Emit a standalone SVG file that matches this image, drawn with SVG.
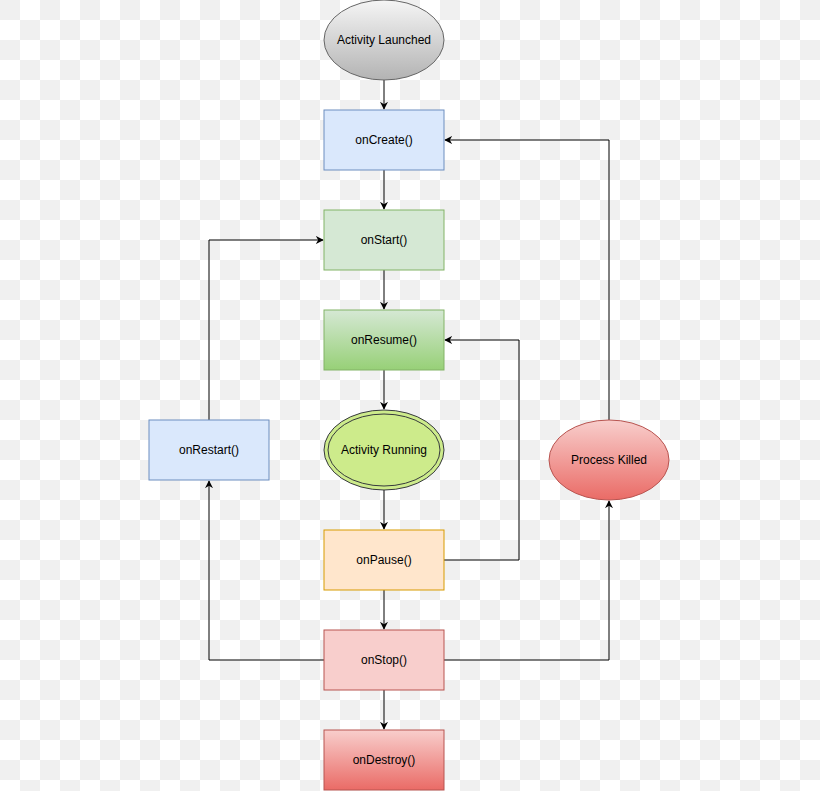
<svg xmlns="http://www.w3.org/2000/svg" width="820" height="791" viewBox="0 0 820 791">
<defs>
<pattern id="chk" width="40" height="40" patternUnits="userSpaceOnUse">
<rect width="40" height="40" fill="#ffffff"/>
<rect width="20" height="20" fill="#f0f0f0"/>
<rect x="20" y="20" width="20" height="20" fill="#f0f0f0"/>
</pattern>
<linearGradient id="gGray" x1="0" y1="0" x2="0" y2="1"><stop offset="0" stop-color="#f5f5f5"/><stop offset="1" stop-color="#b3b3b3"/></linearGradient>
<linearGradient id="gGreen" x1="0" y1="0" x2="0" y2="1"><stop offset="0" stop-color="#d5e8d4"/><stop offset="1" stop-color="#97d077"/></linearGradient>
<linearGradient id="gRed" x1="0" y1="0" x2="0" y2="1"><stop offset="0" stop-color="#f8cecc"/><stop offset="1" stop-color="#ea6b66"/></linearGradient>
<marker id="ar" viewBox="0 0 10 10" refX="9" refY="5" markerWidth="8" markerHeight="8" orient="auto" markerUnits="userSpaceOnUse"><path d="M0,0 L10,5 L0,10 L3,5 Z" fill="#000"/></marker>
</defs>
<style>
text{font-family:"Liberation Sans",Arial,sans-serif;font-size:12px;fill:#000;text-anchor:middle;dominant-baseline:central}
.c{fill:none;stroke:#000;stroke-width:1;marker-end:url(#ar)}
</style>
<rect width="820" height="791" fill="url(#chk)"/>
<g id="connectors">
<path class="c" d="M384,80 V109"/>
<path class="c" d="M384,170 V209"/>
<path class="c" d="M384,270 V309"/>
<path class="c" d="M384,370 V409"/>
<path class="c" d="M384,490 V529"/>
<path class="c" d="M384,590 V629"/>
<path class="c" d="M384,690 V729"/>
<path class="c" d="M209,420 V240 H323"/>
<path class="c" d="M324,660 H209 V481"/>
<path class="c" d="M444,560 H519 V340 H445"/>
<path class="c" d="M444,660 H609 V501"/>
<path class="c" d="M609,420 V140 H445"/>
</g>
<g id="activityLaunched"><ellipse cx="384" cy="40" rx="60" ry="40" fill="url(#gGray)" stroke="#666"/><text x="384" y="40">Activity Launched</text></g>
<g id="onCreate"><rect x="324" y="110" width="120" height="60" fill="#dae8fc" stroke="#6c8ebf"/><text x="384" y="140">onCreate()</text></g>
<g id="onStart"><rect x="324" y="210" width="120" height="60" fill="#d5e8d4" stroke="#82b366"/><text x="384" y="240">onStart()</text></g>
<g id="onResume"><rect x="324" y="310" width="120" height="60" fill="url(#gGreen)" stroke="#82b366"/><text x="384" y="340">onResume()</text></g>
<g id="activityRunning"><ellipse cx="384" cy="450" rx="60" ry="40" fill="#cdeb8b" stroke="#36393d"/><ellipse cx="384" cy="450" rx="56" ry="36" fill="none" stroke="#36393d"/><text x="384" y="450">Activity Running</text></g>
<g id="onPause"><rect x="324" y="530" width="120" height="60" fill="#ffe6cc" stroke="#d79b00"/><text x="384" y="560">onPause()</text></g>
<g id="onStop"><rect x="324" y="630" width="120" height="60" fill="#f8cecc" stroke="#b85450"/><text x="384" y="660">onStop()</text></g>
<g id="onDestroy"><rect x="324" y="730" width="120" height="60" fill="url(#gRed)" stroke="#b85450"/><text x="384" y="760">onDestroy()</text></g>
<g id="onRestart"><rect x="149" y="420" width="120" height="60" fill="#dae8fc" stroke="#6c8ebf"/><text x="209" y="450">onRestart()</text></g>
<g id="processKilled"><ellipse cx="609" cy="460" rx="60" ry="40" fill="url(#gRed)" stroke="#b85450"/><text x="609" y="460">Process Killed</text></g>
</svg>
